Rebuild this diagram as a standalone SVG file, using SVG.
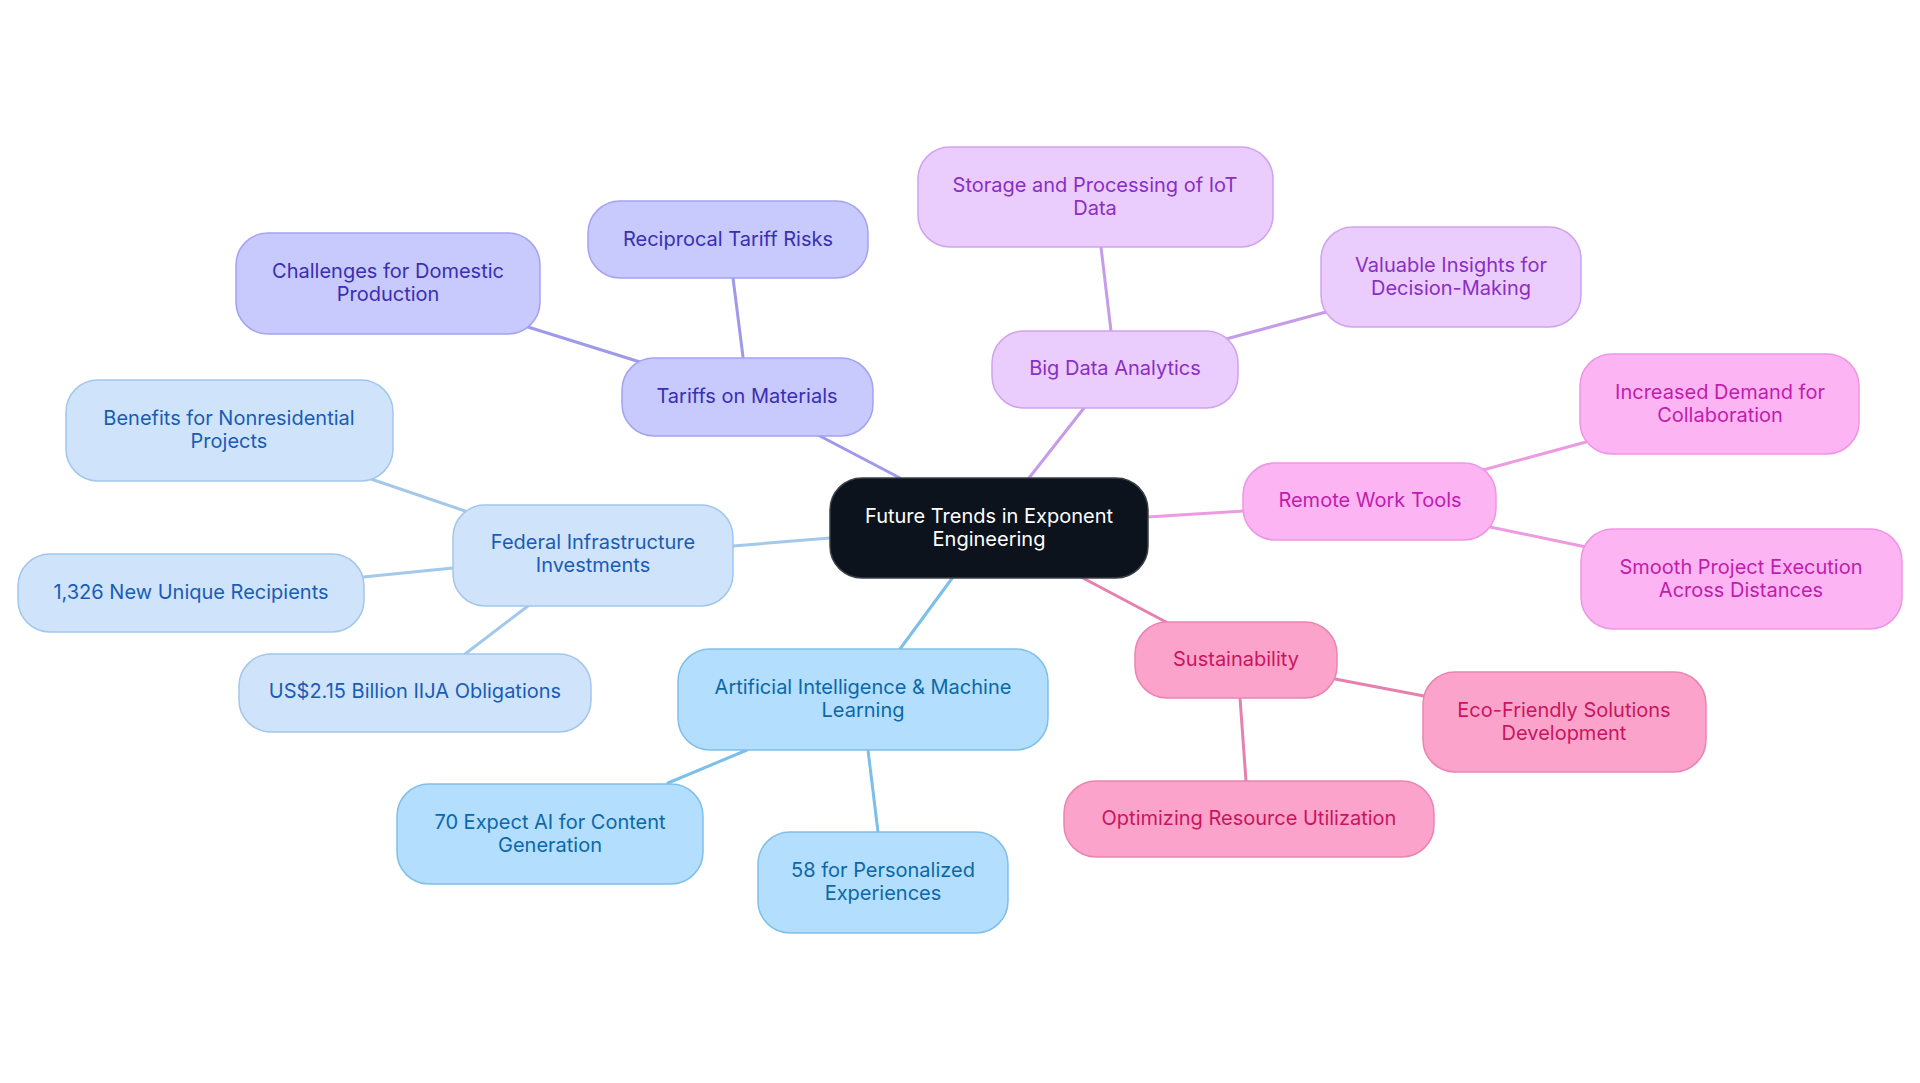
<svg xmlns="http://www.w3.org/2000/svg" width="1920" height="1083" viewBox="0 0 1920 1083">
<style>
text{font-family:Inter,"Noto Sans","Liberation Sans",sans-serif;font-size:20px;text-anchor:middle;letter-spacing:0px}
.c line{stroke-width:3;stroke-linecap:round}
rect{stroke-width:1.5}
.root rect{fill:#0c131c;stroke:#3a4048}.root text{fill:#ffffff}
.tar rect{fill:#c8c9fc;stroke:#a3a3ef}.tar text{fill:#3a2fb2}
.fed rect{fill:#cfe4fb;stroke:#a2c6ec}.fed text{fill:#1a5cb5}
.ai rect{fill:#b3defd;stroke:#80bfe9}.ai text{fill:#0c68a8}
.big rect{fill:#eacdfd;stroke:#d0a2ef}.big text{fill:#8b2ec4}
.rem rect{fill:#fdb4f2;stroke:#ee95e3}.rem text{fill:#bf1dad}
.sus rect{fill:#fca3cb;stroke:#ea84b1}.sus text{fill:#c8155e}
</style>
<rect width="1920" height="1083" fill="#ffffff"/>
<g id="connectors" class="c">
<line x1="900" y1="478" x2="818" y2="435" stroke="#9e9ae9"/>
<line x1="640" y1="362" x2="528" y2="327" stroke="#9e9ae9"/>
<line x1="743" y1="357" x2="733" y2="278" stroke="#9e9ae9"/>
<line x1="830" y1="538" x2="733" y2="546" stroke="#a4c8ea"/>
<line x1="468" y1="512" x2="368" y2="478" stroke="#a4c8ea"/>
<line x1="453" y1="568" x2="363" y2="577" stroke="#a4c8ea"/>
<line x1="528" y1="606" x2="465" y2="654" stroke="#a4c8ea"/>
<line x1="953" y1="577" x2="900" y2="649" stroke="#7cc0e9"/>
<line x1="747" y1="750" x2="668" y2="783" stroke="#7cc0e9"/>
<line x1="868" y1="750" x2="878" y2="832" stroke="#7cc0e9"/>
<line x1="1029" y1="478" x2="1084" y2="408" stroke="#c69ce9"/>
<line x1="1111" y1="331" x2="1101" y2="247" stroke="#c69ce9"/>
<line x1="1226" y1="339" x2="1326" y2="312" stroke="#c69ce9"/>
<line x1="1147" y1="517" x2="1244" y2="511" stroke="#ec9be0"/>
<line x1="1483" y1="470" x2="1586" y2="442" stroke="#ec9be0"/>
<line x1="1490" y1="527" x2="1586" y2="547" stroke="#ec9be0"/>
<line x1="1081" y1="577" x2="1166" y2="622" stroke="#e680ae"/>
<line x1="1335" y1="679" x2="1424" y2="696" stroke="#e680ae"/>
<line x1="1240" y1="698" x2="1246" y2="781" stroke="#e680ae"/>
</g>
<g id="root" class="root"><rect x="830" y="478" width="318" height="100" rx="32"/><text x="989" y="523">Future Trends in Exponent</text><text x="989" y="546">Engineering</text></g>
<g id="tariffs" class="tar"><rect x="622" y="358" width="251" height="78" rx="32"/><text x="747" y="403">Tariffs on Materials</text></g>
<g id="challenges" class="tar"><rect x="236" y="233" width="304" height="101" rx="32"/><text x="388" y="278">Challenges for Domestic</text><text x="388" y="301">Production</text></g>
<g id="reciprocal" class="tar"><rect x="588" y="201" width="280" height="77" rx="32"/><text x="728" y="246">Reciprocal Tariff Risks</text></g>
<g id="federal" class="fed"><rect x="453" y="505" width="280" height="101" rx="32"/><text x="593" y="549">Federal Infrastructure</text><text x="593" y="572">Investments</text></g>
<g id="benefits" class="fed"><rect x="66" y="380" width="327" height="101" rx="32"/><text x="229" y="425">Benefits for Nonresidential</text><text x="229" y="448">Projects</text></g>
<g id="recipients" class="fed"><rect x="18" y="554" width="346" height="78" rx="32"/><text x="191" y="599">1,326 New Unique Recipients</text></g>
<g id="iija" class="fed"><rect x="239" y="654" width="352" height="78" rx="32"/><text x="415" y="698">US$2.15 Billion IIJA Obligations</text></g>
<g id="ai" class="ai"><rect x="678" y="649" width="370" height="101" rx="32"/><text x="863" y="694">Artificial Intelligence &amp; Machine</text><text x="863" y="717">Learning</text></g>
<g id="content" class="ai"><rect x="397" y="784" width="306" height="100" rx="32"/><text x="550" y="829">70 Expect AI for Content</text><text x="550" y="852">Generation</text></g>
<g id="personalized" class="ai"><rect x="758" y="832" width="250" height="101" rx="32"/><text x="883" y="877">58 for Personalized</text><text x="883" y="900">Experiences</text></g>
<g id="bigdata" class="big"><rect x="992" y="331" width="246" height="77" rx="32"/><text x="1115" y="375">Big Data Analytics</text></g>
<g id="storage" class="big"><rect x="918" y="147" width="355" height="100" rx="32"/><text x="1095" y="192">Storage and Processing of IoT</text><text x="1095" y="215">Data</text></g>
<g id="insights" class="big"><rect x="1321" y="227" width="260" height="100" rx="32"/><text x="1451" y="272">Valuable Insights for</text><text x="1451" y="295">Decision-Making</text></g>
<g id="remote" class="rem"><rect x="1243" y="463" width="253" height="77" rx="32"/><text x="1370" y="507">Remote Work Tools</text></g>
<g id="collab" class="rem"><rect x="1580" y="354" width="279" height="100" rx="32"/><text x="1720" y="399">Increased Demand for</text><text x="1720" y="422">Collaboration</text></g>
<g id="smooth" class="rem"><rect x="1581" y="529" width="321" height="100" rx="32"/><text x="1741" y="574">Smooth Project Execution</text><text x="1741" y="597">Across Distances</text></g>
<g id="sustainability" class="sus"><rect x="1135" y="622" width="202" height="76" rx="32"/><text x="1236" y="666">Sustainability</text></g>
<g id="eco" class="sus"><rect x="1423" y="672" width="283" height="100" rx="32"/><text x="1564" y="717">Eco-Friendly Solutions</text><text x="1564" y="740">Development</text></g>
<g id="optimizing" class="sus"><rect x="1064" y="781" width="370" height="76" rx="32"/><text x="1249" y="825">Optimizing Resource Utilization</text></g>
</svg>
